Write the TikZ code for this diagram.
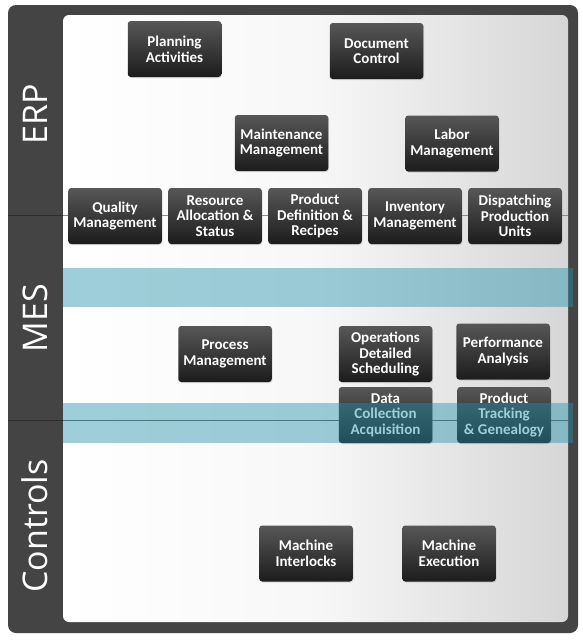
\documentclass[tikz,border=0pt]{standalone}
\usepackage{fontspec}
\newfontfamily\boxfont{Carlito}
\newfontfamily\labfont{Open Sans}
\usetikzlibrary{shadows}
\definecolor{framec}{HTML}{444444}
\definecolor{framedark}{HTML}{2C2C2C}
\definecolor{boxtop}{HTML}{575757}
\definecolor{boxbot}{HTML}{1C1C1C}
\definecolor{bandc}{RGB}{35,145,170}
\definecolor{sepc}{HTML}{8C8C8C}
\definecolor{panelr}{HTML}{D6D6D6}
\tikzset{
  mbox/.style={rounded corners=3pt, top color=boxtop, bottom color=boxbot,
    text=white, align=center, inner sep=0pt,
    minimum width=93.5pt, minimum height=56pt,
    font={\boxfont\bfseries\fontsize{15pt}{15.6pt}\selectfont},
    drop shadow={shadow xshift=0.8pt, shadow yshift=-1pt, opacity=0.25}},
  lab/.style={text=white, rotate=90, inner sep=0pt,
    font={\labfont\fontsize{34pt}{40pt}\selectfont}},
  band/.style={fill=bandc, opacity=0.44},
}
\begin{document}
\begin{tikzpicture}[x=1pt,y=-1pt]
\useasboundingbox (0,0) rectangle (583,640);
\fill[white] (0,0) rectangle (583,640);
% frame
\fill[framec, rounded corners=8pt] (8,5) rectangle (578,633);
% panel
\shade[rounded corners=6pt, left color=white, right color=panelr, middle color=white!97!black]
  (63,15) rectangle (568,622);
% separator lines
\draw[framedark, line width=1pt] (8,215.5) -- (63,215.5);
\draw[sepc, line width=1pt] (63,215.5) -- (568,215.5);
\draw[framedark, line width=1pt] (8,420.5) -- (63,420.5);
\draw[sepc!70!black, line width=1pt] (63,420.5) -- (568,420.5);
% labels
\node[lab] (erp) at (35,114) {ERP};
\node[lab] (mes) at (35,318) {MES};
\node[lab] (ctl) at (35,526) {Controls};
% boxes
\node[mbox] (plan) at (174.5,49) {Planning\\Activities};
\node[mbox] (doc) at (376.5,51) {Document\\Control};
\node[mbox] (maint) at (281.5,143) {Maintenance\\Management};
\node[mbox] (labor) at (452,143.5) {Labor\\Management};
\node[mbox] (qual) at (115,216) {Quality\\Management};
\node[mbox] (res) at (215,216) {Resource\\Allocation \&\\Status};
\node[mbox] (prod) at (315,216) {Product\\Definition \&\\Recipes};
\node[mbox] (inv) at (415,216) {Inventory\\Management};
\node[mbox] (disp) at (515,216) {Dispatching\\Production\\Units};
\node[mbox] (proc) at (225,354) {Process\\Management};
\node[mbox] (ops) at (385.5,354) {Operations\\Detailed\\Scheduling};
\node[mbox] (perf) at (503,351.5) {Performance\\Analysis};
\node[mbox] (data) at (385.5,415) {Data\\Collection\\Acquisition};
\node[mbox] (track) at (504,415) {Product\\Tracking\\\& Genealogy};
\node[mbox] (intl) at (306,553.5) {Machine\\Interlocks};
\node[mbox] (exec) at (449,553.5) {Machine\\Execution};
% bands
\fill[band] (63,268) rectangle (573,307);
\fill[band] (63,403) rectangle (573,443);
\end{tikzpicture}
\end{document}
